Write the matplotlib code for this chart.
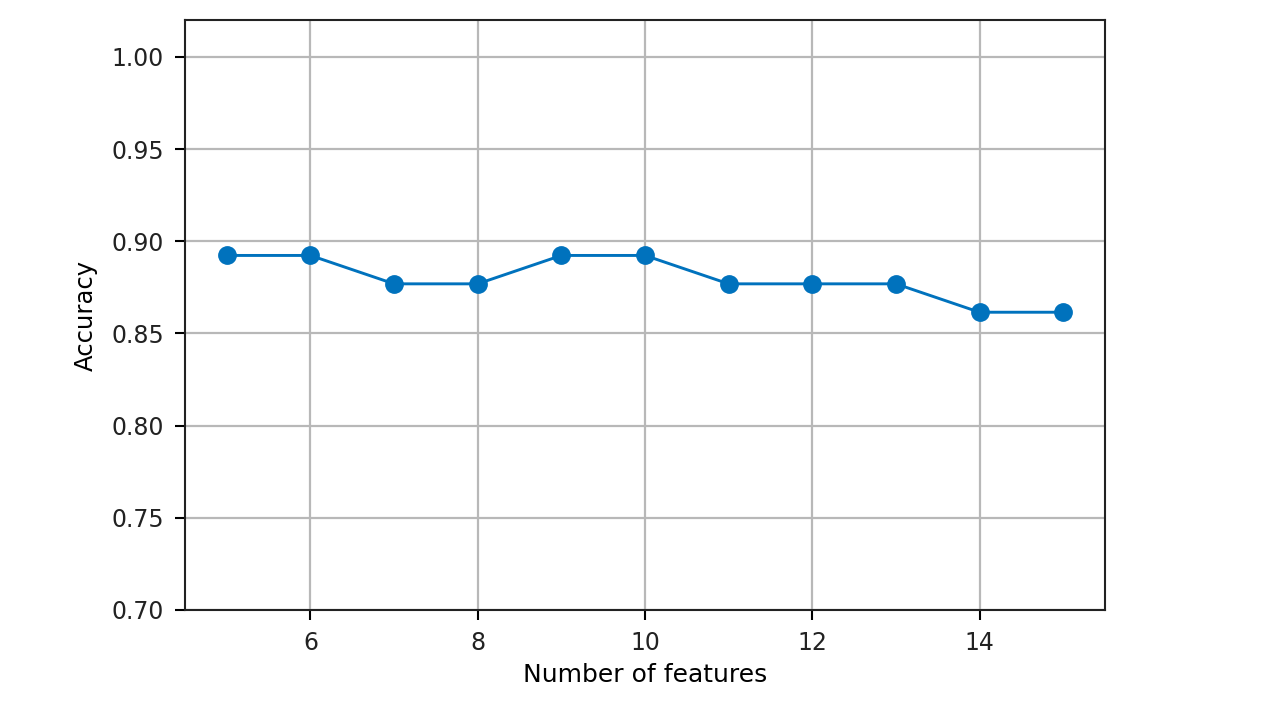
import matplotlib
matplotlib.use("Agg")
import matplotlib.pyplot as plt

# number of features kept vs validation accuracy
k_feat = [5, 6, 7, 8, 9, 10, 11, 12, 13, 14, 15]
accuracy = [0.8923, 0.8923, 0.8769, 0.8769, 0.8923, 0.8923,
            0.8769, 0.8769, 0.8769, 0.8615, 0.8615]

fig = plt.figure(figsize=(12.8, 7.2), dpi=100)
ax = fig.add_axes([185 / 1280, 1 - 610 / 720, 920 / 1280, 590 / 720])

ax.plot(k_feat, accuracy, marker="o", color="#0072bd", markersize=12.5, linewidth=2.1)
ax.set_ylim([0.7, 1.02])
ax.set_ylabel("Accuracy", fontsize=17.5, labelpad=10)
ax.set_xlabel("Number of features", fontsize=18, labelpad=6)
ax.tick_params(labelsize=17, length=7, width=1.5, pad=8, labelcolor="#222222")
for s in ax.spines.values():
    s.set_linewidth(1.5)
    s.set_color("#222222")
ax.grid(color="#b8b8b8", linewidth=1.6)

fig.savefig("out.png", dpi=100)
